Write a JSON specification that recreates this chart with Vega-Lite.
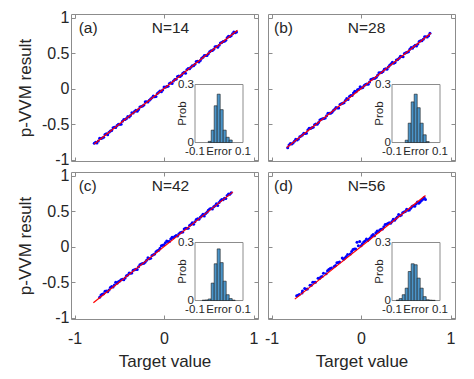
{
"$schema":"https://vega.github.io/schema/vega-lite/v6.json",
"padding":{"left":15,"top":9,"right":5,"bottom":5},
"columns":2,
"spacing":{"row":11,"column":10},
"bounds":"flush",
"config":{
 "view":{"stroke":"#8c8c8c","strokeWidth":1},
 "font":"Liberation Sans",
 "axis":{"domain":false,"grid":false,"tickColor":"#8c8c8c","tickSize":-4,"labelFont":"Liberation Sans","titleFont":"Liberation Sans","labelFontSize":16,"titleFontSize":17,"titleFontWeight":"normal","labelColor":"#262626","titleColor":"#262626","labelPadding":6,"titlePadding":5},
 "text":{"font":"Liberation Sans","color":"#262626"}
},
"datasets":{
 "pts":[
{"p":"a","x":-0.78,"y":-0.77},{"p":"a","x":-0.75,"y":-0.765},{"p":"a","x":-0.72,"y":-0.7},{"p":"a","x":-0.69,"y":-0.695},{"p":"a","x":-0.66,"y":-0.648},{"p":"a","x":-0.63,"y":-0.65},{"p":"a","x":-0.6,"y":-0.596},{"p":"a","x":-0.57,"y":-0.552},{"p":"a","x":-0.54,"y":-0.55},{"p":"a","x":-0.51,"y":-0.504},{"p":"a","x":-0.48,"y":-0.502},{"p":"a","x":-0.45,"y":-0.435},{"p":"a","x":-0.42,"y":-0.42},{"p":"a","x":-0.39,"y":-0.402},{"p":"a","x":-0.36,"y":-0.34},{"p":"a","x":-0.33,"y":-0.322},{"p":"a","x":-0.3,"y":-0.318},{"p":"a","x":-0.27,"y":-0.259},{"p":"a","x":-0.24,"y":-0.244},{"p":"a","x":-0.21,"y":-0.186},{"p":"a","x":-0.18,"y":-0.189},{"p":"a","x":-0.15,"y":-0.147},{"p":"a","x":-0.12,"y":-0.104},{"p":"a","x":-0.09,"y":-0.11},{"p":"a","x":-0.06,"y":-0.053},{"p":"a","x":-0.03,"y":-0.044},{"p":"a","x":0,"y":0.021},{"p":"a","x":0.03,"y":0.028},{"p":"a","x":0.06,"y":0.073},{"p":"a","x":0.09,"y":0.073},{"p":"a","x":0.12,"y":0.129},{"p":"a","x":0.15,"y":0.169},{"p":"a","x":0.18,"y":0.169},{"p":"a","x":0.21,"y":0.215},{"p":"a","x":0.24,"y":0.217},{"p":"a","x":0.27,"y":0.284},{"p":"a","x":0.3,"y":0.301},{"p":"a","x":0.33,"y":0.322},{"p":"a","x":0.36,"y":0.382},{"p":"a","x":0.39,"y":0.374},{"p":"a","x":0.42,"y":0.426},{"p":"a","x":0.45,"y":0.467},{"p":"a","x":0.48,"y":0.467},{"p":"a","x":0.51,"y":0.52},{"p":"a","x":0.54,"y":0.537},{"p":"a","x":0.57,"y":0.59},{"p":"a","x":0.6,"y":0.581},{"p":"a","x":0.63,"y":0.642},{"p":"a","x":0.66,"y":0.662},{"p":"a","x":0.69,"y":0.68},{"p":"a","x":0.72,"y":0.735},{"p":"a","x":0.75,"y":0.744},{"p":"a","x":0.78,"y":0.798},{"p":"a","x":0.81,"y":0.798},
{"p":"a","x":-0.765,"y":-0.756},{"p":"a","x":-0.735,"y":-0.74},{"p":"a","x":-0.705,"y":-0.702},{"p":"a","x":-0.675,"y":-0.686},{"p":"a","x":-0.645,"y":-0.638},{"p":"a","x":-0.615,"y":-0.615},{"p":"a","x":-0.585,"y":-0.591},{"p":"a","x":-0.555,"y":-0.545},{"p":"a","x":-0.525,"y":-0.521},{"p":"a","x":-0.495,"y":-0.504},{"p":"a","x":-0.465,"y":-0.46},{"p":"a","x":-0.435,"y":-0.437},{"p":"a","x":-0.405,"y":-0.393},{"p":"a","x":-0.375,"y":-0.38},{"p":"a","x":-0.345,"y":-0.344},{"p":"a","x":-0.315,"y":-0.307},{"p":"a","x":-0.285,"y":-0.295},{"p":"a","x":-0.255,"y":-0.252},{"p":"a","x":-0.225,"y":-0.232},{"p":"a","x":-0.195,"y":-0.185},{"p":"a","x":-0.165,"y":-0.166},{"p":"a","x":-0.135,"y":-0.129},{"p":"a","x":-0.105,"y":-0.114},{"p":"a","x":-0.075,"y":-0.071},{"p":"a","x":-0.045,"y":-0.036},{"p":"a","x":-0.015,"y":-0.021},{"p":"a","x":0.015,"y":0.018},{"p":"a","x":0.045,"y":0.034},{"p":"a","x":0.075,"y":0.082},{"p":"a","x":0.105,"y":0.106},{"p":"a","x":0.135,"y":0.131},{"p":"a","x":0.165,"y":0.176},{"p":"a","x":0.195,"y":0.187},{"p":"a","x":0.225,"y":0.228},{"p":"a","x":0.255,"y":0.264},{"p":"a","x":0.285,"y":0.279},{"p":"a","x":0.315,"y":0.32},{"p":"a","x":0.345,"y":0.344},{"p":"a","x":0.375,"y":0.385},{"p":"a","x":0.405,"y":0.396},{"p":"a","x":0.435,"y":0.441},{"p":"a","x":0.465,"y":0.466},{"p":"a","x":0.495,"y":0.49},{"p":"a","x":0.525,"y":0.533},{"p":"a","x":0.555,"y":0.552},{"p":"a","x":0.585,"y":0.594},{"p":"a","x":0.615,"y":0.609},{"p":"a","x":0.645,"y":0.65},{"p":"a","x":0.675,"y":0.668},{"p":"a","x":0.705,"y":0.715},{"p":"a","x":0.735,"y":0.733},{"p":"a","x":0.765,"y":0.771},{"p":"a","x":0.795,"y":0.785},
{"p":"b","x":-0.82,"y":-0.832},{"p":"b","x":-0.79,"y":-0.772},{"p":"b","x":-0.76,"y":-0.766},{"p":"b","x":-0.73,"y":-0.715},{"p":"b","x":-0.7,"y":-0.71},{"p":"b","x":-0.67,"y":-0.668},{"p":"b","x":-0.64,"y":-0.628},{"p":"b","x":-0.61,"y":-0.629},{"p":"b","x":-0.58,"y":-0.56},{"p":"b","x":-0.55,"y":-0.553},{"p":"b","x":-0.52,"y":-0.51},{"p":"b","x":-0.49,"y":-0.503},{"p":"b","x":-0.46,"y":-0.443},{"p":"b","x":-0.43,"y":-0.424},{"p":"b","x":-0.4,"y":-0.416},{"p":"b","x":-0.37,"y":-0.348},{"p":"b","x":-0.34,"y":-0.348},{"p":"b","x":-0.31,"y":-0.309},{"p":"b","x":-0.28,"y":-0.266},{"p":"b","x":-0.25,"y":-0.273},{"p":"b","x":-0.22,"y":-0.215},{"p":"b","x":-0.19,"y":-0.201},{"p":"b","x":-0.16,"y":-0.141},{"p":"b","x":-0.13,"y":-0.111},{"p":"b","x":-0.1,"y":-0.097},{"p":"b","x":-0.07,"y":-0.037},{"p":"b","x":-0.04,"y":-0.017},{"p":"b","x":-0.01,"y":0.026},{"p":"b","x":0.02,"y":0.016},{"p":"b","x":0.05,"y":0.057},{"p":"b","x":0.08,"y":0.06},{"p":"b","x":0.11,"y":0.126},{"p":"b","x":0.14,"y":0.143},{"p":"b","x":0.17,"y":0.161},{"p":"b","x":0.2,"y":0.224},{"p":"b","x":0.23,"y":0.226},{"p":"b","x":0.26,"y":0.271},{"p":"b","x":0.29,"y":0.272},{"p":"b","x":0.32,"y":0.328},{"p":"b","x":0.35,"y":0.37},{"p":"b","x":0.38,"y":0.368},{"p":"b","x":0.41,"y":0.41},{"p":"b","x":0.44,"y":0.455},{"p":"b","x":0.47,"y":0.448},{"p":"b","x":0.5,"y":0.506},{"p":"b","x":0.53,"y":0.52},{"p":"b","x":0.56,"y":0.578},{"p":"b","x":0.59,"y":0.594},{"p":"b","x":0.62,"y":0.6},{"p":"b","x":0.65,"y":0.662},{"p":"b","x":0.68,"y":0.675},{"p":"b","x":0.71,"y":0.73},{"p":"b","x":0.74,"y":0.725},{"p":"b","x":0.77,"y":0.78},
{"p":"b","x":-0.805,"y":-0.796},{"p":"b","x":-0.775,"y":-0.78},{"p":"b","x":-0.745,"y":-0.742},{"p":"b","x":-0.715,"y":-0.726},{"p":"b","x":-0.685,"y":-0.678},{"p":"b","x":-0.655,"y":-0.655},{"p":"b","x":-0.625,"y":-0.631},{"p":"b","x":-0.595,"y":-0.585},{"p":"b","x":-0.565,"y":-0.561},{"p":"b","x":-0.535,"y":-0.544},{"p":"b","x":-0.505,"y":-0.5},{"p":"b","x":-0.475,"y":-0.477},{"p":"b","x":-0.445,"y":-0.433},{"p":"b","x":-0.415,"y":-0.42},{"p":"b","x":-0.385,"y":-0.384},{"p":"b","x":-0.355,"y":-0.347},{"p":"b","x":-0.325,"y":-0.335},{"p":"b","x":-0.295,"y":-0.292},{"p":"b","x":-0.265,"y":-0.272},{"p":"b","x":-0.235,"y":-0.225},{"p":"b","x":-0.205,"y":-0.206},{"p":"b","x":-0.175,"y":-0.169},{"p":"b","x":-0.145,"y":-0.154},{"p":"b","x":-0.115,"y":-0.096},{"p":"b","x":-0.085,"y":-0.061},{"p":"b","x":-0.055,"y":-0.046},{"p":"b","x":-0.025,"y":-0.008},{"p":"b","x":0.005,"y":0.008},{"p":"b","x":0.035,"y":0.042},{"p":"b","x":0.065,"y":0.066},{"p":"b","x":0.095,"y":0.091},{"p":"b","x":0.125,"y":0.136},{"p":"b","x":0.155,"y":0.147},{"p":"b","x":0.185,"y":0.188},{"p":"b","x":0.215,"y":0.224},{"p":"b","x":0.245,"y":0.239},{"p":"b","x":0.275,"y":0.28},{"p":"b","x":0.305,"y":0.304},{"p":"b","x":0.335,"y":0.345},{"p":"b","x":0.365,"y":0.356},{"p":"b","x":0.395,"y":0.401},{"p":"b","x":0.425,"y":0.426},{"p":"b","x":0.455,"y":0.45},{"p":"b","x":0.485,"y":0.493},{"p":"b","x":0.515,"y":0.512},{"p":"b","x":0.545,"y":0.554},{"p":"b","x":0.575,"y":0.569},{"p":"b","x":0.605,"y":0.61},{"p":"b","x":0.635,"y":0.628},{"p":"b","x":0.665,"y":0.675},{"p":"b","x":0.695,"y":0.693},{"p":"b","x":0.725,"y":0.731},{"p":"b","x":0.755,"y":0.745},
{"p":"c","x":-0.72,"y":-0.714},{"p":"c","x":-0.69,"y":-0.672},{"p":"c","x":-0.66,"y":-0.629},{"p":"c","x":-0.63,"y":-0.635},{"p":"c","x":-0.6,"y":-0.578},{"p":"c","x":-0.57,"y":-0.569},{"p":"c","x":-0.54,"y":-0.504},{"p":"c","x":-0.51,"y":-0.497},{"p":"c","x":-0.48,"y":-0.467},{"p":"c","x":-0.45,"y":-0.467},{"p":"c","x":-0.42,"y":-0.411},{"p":"c","x":-0.39,"y":-0.371},{"p":"c","x":-0.36,"y":-0.371},{"p":"c","x":-0.33,"y":-0.325},{"p":"c","x":-0.3,"y":-0.323},{"p":"c","x":-0.27,"y":-0.256},{"p":"c","x":-0.24,"y":-0.239},{"p":"c","x":-0.21,"y":-0.218},{"p":"c","x":-0.18,"y":-0.158},{"p":"c","x":-0.15,"y":-0.166},{"p":"c","x":-0.12,"y":-0.114},{"p":"c","x":-0.09,"y":-0.073},{"p":"c","x":-0.06,"y":-0.053},{"p":"c","x":-0.03,"y":0.01},{"p":"c","x":0,"y":0.027},{"p":"c","x":0.03,"y":0.08},{"p":"c","x":0.06,"y":0.071},{"p":"c","x":0.09,"y":0.132},{"p":"c","x":0.12,"y":0.142},{"p":"c","x":0.15,"y":0.15},{"p":"c","x":0.18,"y":0.195},{"p":"c","x":0.21,"y":0.204},{"p":"c","x":0.24,"y":0.258},{"p":"c","x":0.27,"y":0.258},{"p":"c","x":0.3,"y":0.31},{"p":"c","x":0.33,"y":0.315},{"p":"c","x":0.36,"y":0.38},{"p":"c","x":0.39,"y":0.385},{"p":"c","x":0.42,"y":0.432},{"p":"c","x":0.45,"y":0.43},{"p":"c","x":0.48,"y":0.484},{"p":"c","x":0.51,"y":0.528},{"p":"c","x":0.54,"y":0.53},{"p":"c","x":0.57,"y":0.576},{"p":"c","x":0.6,"y":0.578},{"p":"c","x":0.63,"y":0.645},{"p":"c","x":0.66,"y":0.66},{"p":"c","x":0.69,"y":0.678},{"p":"c","x":0.72,"y":0.74},{"p":"c","x":0.75,"y":0.758},
{"p":"c","x":-0.705,"y":-0.681},{"p":"c","x":-0.675,"y":-0.665},{"p":"c","x":-0.645,"y":-0.627},{"p":"c","x":-0.615,"y":-0.611},{"p":"c","x":-0.585,"y":-0.563},{"p":"c","x":-0.555,"y":-0.54},{"p":"c","x":-0.525,"y":-0.516},{"p":"c","x":-0.495,"y":-0.485},{"p":"c","x":-0.465,"y":-0.461},{"p":"c","x":-0.435,"y":-0.444},{"p":"c","x":-0.405,"y":-0.4},{"p":"c","x":-0.375,"y":-0.377},{"p":"c","x":-0.345,"y":-0.333},{"p":"c","x":-0.315,"y":-0.32},{"p":"c","x":-0.285,"y":-0.284},{"p":"c","x":-0.255,"y":-0.247},{"p":"c","x":-0.225,"y":-0.235},{"p":"c","x":-0.195,"y":-0.192},{"p":"c","x":-0.165,"y":-0.172},{"p":"c","x":-0.135,"y":-0.125},{"p":"c","x":-0.105,"y":-0.106},{"p":"c","x":-0.075,"y":-0.059},{"p":"c","x":-0.045,"y":-0.024},{"p":"c","x":-0.015,"y":0.02},{"p":"c","x":0.015,"y":0.055},{"p":"c","x":0.045,"y":0.07},{"p":"c","x":0.075,"y":0.108},{"p":"c","x":0.105,"y":0.124},{"p":"c","x":0.135,"y":0.157},{"p":"c","x":0.165,"y":0.176},{"p":"c","x":0.195,"y":0.201},{"p":"c","x":0.225,"y":0.246},{"p":"c","x":0.255,"y":0.257},{"p":"c","x":0.285,"y":0.298},{"p":"c","x":0.315,"y":0.334},{"p":"c","x":0.345,"y":0.349},{"p":"c","x":0.375,"y":0.39},{"p":"c","x":0.405,"y":0.414},{"p":"c","x":0.435,"y":0.455},{"p":"c","x":0.465,"y":0.466},{"p":"c","x":0.495,"y":0.511},{"p":"c","x":0.525,"y":0.536},{"p":"c","x":0.555,"y":0.56},{"p":"c","x":0.585,"y":0.603},{"p":"c","x":0.615,"y":0.622},{"p":"c","x":0.645,"y":0.664},{"p":"c","x":0.675,"y":0.679},{"p":"c","x":0.705,"y":0.72},{"p":"c","x":0.735,"y":0.738},
{"p":"d","x":-0.72,"y":-0.694},{"p":"d","x":-0.69,"y":-0.676},{"p":"d","x":-0.66,"y":-0.653},{"p":"d","x":-0.63,"y":-0.591},{"p":"d","x":-0.6,"y":-0.598},{"p":"d","x":-0.57,"y":-0.545},{"p":"d","x":-0.54,"y":-0.503},{"p":"d","x":-0.51,"y":-0.501},{"p":"d","x":-0.48,"y":-0.447},{"p":"d","x":-0.45,"y":-0.429},{"p":"d","x":-0.42,"y":-0.376},{"p":"d","x":-0.39,"y":-0.384},{"p":"d","x":-0.36,"y":-0.322},{"p":"d","x":-0.33,"y":-0.301},{"p":"d","x":-0.3,"y":-0.282},{"p":"d","x":-0.27,"y":-0.227},{"p":"d","x":-0.24,"y":-0.217},{"p":"d","x":-0.21,"y":-0.162},{"p":"d","x":-0.18,"y":-0.162},{"p":"d","x":-0.15,"y":-0.11},{"p":"d","x":-0.12,"y":-0.105},{"p":"d","x":-0.09,"y":-0.04},{"p":"d","x":-0.06,"y":-0.035},{"p":"d","x":-0.03,"y":0.012},{"p":"d","x":0,"y":0.01},{"p":"d","x":0.03,"y":0.064},{"p":"d","x":0.06,"y":0.107},{"p":"d","x":0.09,"y":0.108},{"p":"d","x":0.12,"y":0.152},{"p":"d","x":0.15,"y":0.153},{"p":"d","x":0.18,"y":0.219},{"p":"d","x":0.21,"y":0.233},{"p":"d","x":0.24,"y":0.249},{"p":"d","x":0.27,"y":0.309},{"p":"d","x":0.3,"y":0.326},{"p":"d","x":0.33,"y":0.327},{"p":"d","x":0.36,"y":0.383},{"p":"d","x":0.39,"y":0.396},{"p":"d","x":0.42,"y":0.451},{"p":"d","x":0.45,"y":0.446},{"p":"d","x":0.48,"y":0.485},{"p":"d","x":0.51,"y":0.526},{"p":"d","x":0.54,"y":0.514},{"p":"d","x":0.57,"y":0.565},{"p":"d","x":0.6,"y":0.568},{"p":"d","x":0.63,"y":0.627},{"p":"d","x":0.66,"y":0.628},{"p":"d","x":0.69,"y":0.667},{"p":"d","x":0.72,"y":0.663},
{"p":"d","x":-0.655,"y":-0.625},{"p":"d","x":-0.555,"y":-0.545},{"p":"d","x":-0.465,"y":-0.45},{"p":"d","x":-0.375,"y":-0.34},{"p":"d","x":-0.285,"y":-0.265},{"p":"d","x":-0.195,"y":-0.18},{"p":"d","x":-0.105,"y":-0.07},{"p":"d","x":-0.045,"y":0.06},{"p":"d","x":-0.015,"y":0.07},{"p":"d","x":0.015,"y":0.04},{"p":"d","x":0.075,"y":0.085},{"p":"d","x":0.135,"y":0.17},{"p":"d","x":0.195,"y":0.21},{"p":"d","x":0.255,"y":0.28},{"p":"d","x":0.315,"y":0.335},{"p":"d","x":0.375,"y":0.37},{"p":"d","x":0.435,"y":0.435},{"p":"d","x":0.495,"y":0.495},{"p":"d","x":0.555,"y":0.54},{"p":"d","x":0.615,"y":0.6},{"p":"d","x":0.675,"y":0.65},{"p":"d","x":0.705,"y":0.69},
{"p":"d","x":-0.705,"y":-0.684},{"p":"d","x":-0.615,"y":-0.602},{"p":"d","x":-0.525,"y":-0.501},{"p":"d","x":-0.435,"y":-0.422},{"p":"d","x":-0.345,"y":-0.31},{"p":"d","x":-0.255,"y":-0.226},{"p":"d","x":-0.165,"y":-0.141},{"p":"d","x":-0.075,"y":-0.035},{"p":"d","x":0.045,"y":0.079},{"p":"d","x":0.105,"y":0.123},{"p":"d","x":0.165,"y":0.196},{"p":"d","x":0.225,"y":0.245},{"p":"d","x":0.285,"y":0.315},{"p":"d","x":0.345,"y":0.354},{"p":"d","x":0.405,"y":0.415},{"p":"d","x":0.465,"y":0.476},{"p":"d","x":0.525,"y":0.512},{"p":"d","x":0.585,"y":0.574},{"p":"d","x":0.645,"y":0.611}
 ],
 "lines":[
  {"p":"a","x":-0.78,"y":-0.78,"x2":0.82,"y2":0.82},
  {"p":"b","x":-0.83,"y":-0.83,"x2":0.78,"y2":0.78},
  {"p":"c","x":-0.79,"y":-0.79,"x2":0.77,"y2":0.77},
  {"p":"d","x":-0.74,"y":-0.74,"x2":0.72,"y2":0.72}
 ],
 "tags":[
  {"p":"a","x":-0.954,"y":0.853,"t":"(a)"},
  {"p":"b","x":-0.973,"y":0.853,"t":"(b)"},
  {"p":"c","x":-0.954,"y":0.853,"t":"(c)"},
  {"p":"d","x":-0.973,"y":0.853,"t":"(d)"}
 ],
 "ns":[
  {"p":"a","x":0.072,"y":0.853,"t":"N=14"},
  {"p":"b","x":0.061,"y":0.853,"t":"N=28"},
  {"p":"c","x":0.072,"y":0.853,"t":"N=42"},
  {"p":"d","x":0.061,"y":0.853,"t":"N=56"}
 ],
 "hist":[
  {"p":"a","x":-0.045,"x2":-0.0325,"y":0.006},{"p":"a","x":-0.0325,"x2":-0.02,"y":0.064},{"p":"a","x":-0.02,"x2":-0.0075,"y":0.19},{"p":"a","x":-0.0075,"x2":0.005,"y":0.25},{"p":"a","x":0.005,"x2":0.0175,"y":0.17},{"p":"a","x":0.0175,"x2":0.03,"y":0.064},{"p":"a","x":0.03,"x2":0.0425,"y":0.027},{"p":"a","x":0.0425,"x2":0.055,"y":0.013},
  {"p":"b","x":-0.045,"x2":-0.0325,"y":0.012},{"p":"b","x":-0.0325,"x2":-0.02,"y":0.1},{"p":"b","x":-0.02,"x2":-0.0075,"y":0.21},{"p":"b","x":-0.0075,"x2":0.005,"y":0.25},{"p":"b","x":0.005,"x2":0.0175,"y":0.18},{"p":"b","x":0.0175,"x2":0.03,"y":0.1},{"p":"b","x":0.03,"x2":0.0425,"y":0.04},{"p":"b","x":0.0425,"x2":0.055,"y":0.005},
  {"p":"c","x":-0.07,"x2":-0.0575,"y":0.002},{"p":"c","x":-0.0575,"x2":-0.045,"y":0.003},{"p":"c","x":-0.045,"x2":-0.0325,"y":0.008},{"p":"c","x":-0.0325,"x2":-0.02,"y":0.09},{"p":"c","x":-0.02,"x2":-0.0075,"y":0.19},{"p":"c","x":-0.0075,"x2":0.005,"y":0.267},{"p":"c","x":0.005,"x2":0.0175,"y":0.196},{"p":"c","x":0.0175,"x2":0.03,"y":0.1},{"p":"c","x":0.03,"x2":0.0425,"y":0.03},{"p":"c","x":0.0425,"x2":0.055,"y":0.01},{"p":"c","x":0.055,"x2":0.0675,"y":0.002},
  {"p":"d","x":-0.0825,"x2":-0.07,"y":0.002},{"p":"d","x":-0.07,"x2":-0.0575,"y":0.01},{"p":"d","x":-0.0575,"x2":-0.045,"y":0.03},{"p":"d","x":-0.045,"x2":-0.0325,"y":0.064},{"p":"d","x":-0.0325,"x2":-0.02,"y":0.15},{"p":"d","x":-0.02,"x2":-0.0075,"y":0.19},{"p":"d","x":-0.0075,"x2":0.005,"y":0.185},{"p":"d","x":0.005,"x2":0.0175,"y":0.116},{"p":"d","x":0.0175,"x2":0.03,"y":0.064},{"p":"d","x":0.03,"x2":0.0425,"y":0.02},{"p":"d","x":0.0425,"x2":0.055,"y":0.004},{"p":"d","x":0.055,"x2":0.0675,"y":0.002},{"p":"d","x":0.0675,"x2":0.08,"y":0.001}
 ],
 "frame":[{"x":-0.1,"x2":0.1,"y":0,"y2":0.3}],
 "ilx":[{"x":-0.1,"y":0,"t":"-0.1"},{"x":0,"y":0,"t":"Error"},{"x":0.1,"y":0,"t":"0.1"}],
 "ily":[{"x":-0.1,"y":0.3,"t":"0.3"},{"x":-0.1,"y":0,"t":"0"}],
 "ilp":[{"x":-0.15,"y":0.15,"t":"Prob"}]
},
"concat":[
{"width":187,"height":147,"resolve":{"scale":{"x":"independent","y":"independent"}},
 "layer":[
  {"encoding":{
    "x":{"field":"x","type":"quantitative","scale":{"domain":[-1.04,1.05],"nice":false,"zero":false},"axis":{"values":[-1,0,1],"labels":false,"title":null}},
    "y":{"field":"y","type":"quantitative","scale":{"domain":[-1.02,1.05],"nice":false,"zero":false},"axis":{"values":[-1,-0.5,0,0.5,1],"format":"~g","title":"p-VVM result","titlePadding":7,"labelExpr":"replace(datum.label, '\u2212', '-')"}}},
   "layer":[
    {"data":{"name":"pts"},"transform":[{"filter":"datum.p=='a'"}],"mark":{"type":"circle","size":9,"color":"#0000ff","opacity":1}},
    {"data":{"name":"lines"},"transform":[{"filter":"datum.p=='a'"}],"mark":{"type":"rule","color":"#ff0000","strokeWidth":1.2},"encoding":{"x2":{"field":"x2"},"y2":{"field":"y2"}}},
    {"data":{"name":"tags"},"transform":[{"filter":"datum.p=='a'"}],"mark":{"type":"text","align":"left","baseline":"middle","fontSize":15.5},"encoding":{"text":{"field":"t"}}},
    {"data":{"name":"ns"},"transform":[{"filter":"datum.p=='a'"}],"mark":{"type":"text","align":"center","baseline":"middle","fontSize":15.5},"encoding":{"text":{"field":"t"}}}
   ]},
  {"encoding":{
    "x":{"field":"x","type":"quantitative","scale":{"domain":[-1.04,1.05],"nice":false,"zero":false},"axis":{"orient":"top","values":[-1,0,1],"labels":false,"title":null}},
    "y":{"field":"y","type":"quantitative","scale":{"domain":[-1.02,1.05],"nice":false,"zero":false},"axis":{"orient":"right","values":[-1,-0.5,0,0.5,1],"labels":false,"title":null}}},
   "layer":[{"data":{"name":"lines"},"transform":[{"filter":"datum.p=='a'"}],"mark":{"type":"point","opacity":0}}]},
  {"encoding":{
    "x":{"field":"x","type":"quantitative","scale":{"domain":[-0.6167,0.1625],"nice":false,"zero":false},"axis":null},
    "y":{"field":"y","type":"quantitative","scale":{"domain":[-0.0956,0.6647],"nice":false,"zero":false},"axis":null}},
   "layer":[
    {"data":{"name":"frame"},"mark":{"type":"rect","fill":"white","stroke":"#8c8c8c","strokeWidth":1},"encoding":{"x2":{"field":"x2"},"y2":{"field":"y2"}}},
    {"data":{"name":"hist"},"transform":[{"filter":"datum.p=='a'"}],"mark":{"type":"rect","fill":"#4b95c9","stroke":"#1a1a1a","strokeWidth":0.6},"encoding":{"x2":{"field":"x2"},"y2":{"datum":0}}},
    {"data":{"name":"ilx"},"mark":{"type":"text","align":"center","baseline":"top","dy":3,"fontSize":11.5},"encoding":{"text":{"field":"t"}}},
    {"data":{"name":"ily"},"mark":{"type":"text","align":"right","baseline":"middle","dx":-1,"fontSize":11.5},"encoding":{"text":{"field":"t"}}},
    {"data":{"name":"ilp"},"mark":{"type":"text","align":"center","baseline":"middle","angle":270,"fontSize":11.5},"encoding":{"text":{"field":"t"}}}
   ]}
 ]},
{"width":187,"height":147,"resolve":{"scale":{"x":"independent","y":"independent"}},
 "layer":[
  {"encoding":{
    "x":{"field":"x","type":"quantitative","scale":{"domain":[-1.04,1.05],"nice":false,"zero":false},"axis":{"values":[-1,0,1],"labels":false,"title":null}},
    "y":{"field":"y","type":"quantitative","scale":{"domain":[-1.02,1.05],"nice":false,"zero":false},"axis":{"values":[-1,-0.5,0,0.5,1],"labels":false,"title":null}}},
   "layer":[
    {"data":{"name":"pts"},"transform":[{"filter":"datum.p=='b'"}],"mark":{"type":"circle","size":9,"color":"#0000ff","opacity":1}},
    {"data":{"name":"lines"},"transform":[{"filter":"datum.p=='b'"}],"mark":{"type":"rule","color":"#ff0000","strokeWidth":1.2},"encoding":{"x2":{"field":"x2"},"y2":{"field":"y2"}}},
    {"data":{"name":"tags"},"transform":[{"filter":"datum.p=='b'"}],"mark":{"type":"text","align":"left","baseline":"middle","fontSize":15.5},"encoding":{"text":{"field":"t"}}},
    {"data":{"name":"ns"},"transform":[{"filter":"datum.p=='b'"}],"mark":{"type":"text","align":"center","baseline":"middle","fontSize":15.5},"encoding":{"text":{"field":"t"}}}
   ]},
  {"encoding":{
    "x":{"field":"x","type":"quantitative","scale":{"domain":[-1.04,1.05],"nice":false,"zero":false},"axis":{"orient":"top","values":[-1,0,1],"labels":false,"title":null}},
    "y":{"field":"y","type":"quantitative","scale":{"domain":[-1.02,1.05],"nice":false,"zero":false},"axis":{"orient":"right","values":[-1,-0.5,0,0.5,1],"labels":false,"title":null}}},
   "layer":[{"data":{"name":"lines"},"transform":[{"filter":"datum.p=='b'"}],"mark":{"type":"point","opacity":0}}]},
  {"encoding":{
    "x":{"field":"x","type":"quantitative","scale":{"domain":[-0.6167,0.1625],"nice":false,"zero":false},"axis":null},
    "y":{"field":"y","type":"quantitative","scale":{"domain":[-0.0956,0.6647],"nice":false,"zero":false},"axis":null}},
   "layer":[
    {"data":{"name":"frame"},"mark":{"type":"rect","fill":"white","stroke":"#8c8c8c","strokeWidth":1},"encoding":{"x2":{"field":"x2"},"y2":{"field":"y2"}}},
    {"data":{"name":"hist"},"transform":[{"filter":"datum.p=='b'"}],"mark":{"type":"rect","fill":"#4b95c9","stroke":"#1a1a1a","strokeWidth":0.6},"encoding":{"x2":{"field":"x2"},"y2":{"datum":0}}},
    {"data":{"name":"ilx"},"mark":{"type":"text","align":"center","baseline":"top","dy":3,"fontSize":11.5},"encoding":{"text":{"field":"t"}}},
    {"data":{"name":"ily"},"mark":{"type":"text","align":"right","baseline":"middle","dx":-1,"fontSize":11.5},"encoding":{"text":{"field":"t"}}},
    {"data":{"name":"ilp"},"mark":{"type":"text","align":"center","baseline":"middle","angle":270,"fontSize":11.5},"encoding":{"text":{"field":"t"}}}
   ]}
 ]},
{"width":187,"height":147,"resolve":{"scale":{"x":"independent","y":"independent"}},
 "layer":[
  {"encoding":{
    "x":{"field":"x","type":"quantitative","scale":{"domain":[-1.04,1.05],"nice":false,"zero":false},"axis":{"values":[-1,0,1],"format":"~g","title":"Target value","labelPadding":15,"titlePadding":7,"labelExpr":"replace(datum.label, '\u2212', '-')"}},
    "y":{"field":"y","type":"quantitative","scale":{"domain":[-1.02,1.05],"nice":false,"zero":false},"axis":{"values":[-1,-0.5,0,0.5,1],"format":"~g","title":"p-VVM result","titlePadding":7,"labelExpr":"replace(datum.label, '\u2212', '-')"}}},
   "layer":[
    {"data":{"name":"pts"},"transform":[{"filter":"datum.p=='c'"}],"mark":{"type":"circle","size":9,"color":"#0000ff","opacity":1}},
    {"data":{"name":"lines"},"transform":[{"filter":"datum.p=='c'"}],"mark":{"type":"rule","color":"#ff0000","strokeWidth":1.2},"encoding":{"x2":{"field":"x2"},"y2":{"field":"y2"}}},
    {"data":{"name":"tags"},"transform":[{"filter":"datum.p=='c'"}],"mark":{"type":"text","align":"left","baseline":"middle","fontSize":15.5},"encoding":{"text":{"field":"t"}}},
    {"data":{"name":"ns"},"transform":[{"filter":"datum.p=='c'"}],"mark":{"type":"text","align":"center","baseline":"middle","fontSize":15.5},"encoding":{"text":{"field":"t"}}}
   ]},
  {"encoding":{
    "x":{"field":"x","type":"quantitative","scale":{"domain":[-1.04,1.05],"nice":false,"zero":false},"axis":{"orient":"top","values":[-1,0,1],"labels":false,"title":null}},
    "y":{"field":"y","type":"quantitative","scale":{"domain":[-1.02,1.05],"nice":false,"zero":false},"axis":{"orient":"right","values":[-1,-0.5,0,0.5,1],"labels":false,"title":null}}},
   "layer":[{"data":{"name":"lines"},"transform":[{"filter":"datum.p=='c'"}],"mark":{"type":"point","opacity":0}}]},
  {"encoding":{
    "x":{"field":"x","type":"quantitative","scale":{"domain":[-0.6167,0.1625],"nice":false,"zero":false},"axis":null},
    "y":{"field":"y","type":"quantitative","scale":{"domain":[-0.0956,0.6647],"nice":false,"zero":false},"axis":null}},
   "layer":[
    {"data":{"name":"frame"},"mark":{"type":"rect","fill":"white","stroke":"#8c8c8c","strokeWidth":1},"encoding":{"x2":{"field":"x2"},"y2":{"field":"y2"}}},
    {"data":{"name":"hist"},"transform":[{"filter":"datum.p=='c'"}],"mark":{"type":"rect","fill":"#4b95c9","stroke":"#1a1a1a","strokeWidth":0.6},"encoding":{"x2":{"field":"x2"},"y2":{"datum":0}}},
    {"data":{"name":"ilx"},"mark":{"type":"text","align":"center","baseline":"top","dy":3,"fontSize":11.5},"encoding":{"text":{"field":"t"}}},
    {"data":{"name":"ily"},"mark":{"type":"text","align":"right","baseline":"middle","dx":-1,"fontSize":11.5},"encoding":{"text":{"field":"t"}}},
    {"data":{"name":"ilp"},"mark":{"type":"text","align":"center","baseline":"middle","angle":270,"fontSize":11.5},"encoding":{"text":{"field":"t"}}}
   ]}
 ]},
{"width":187,"height":147,"resolve":{"scale":{"x":"independent","y":"independent"}},
 "layer":[
  {"encoding":{
    "x":{"field":"x","type":"quantitative","scale":{"domain":[-1.04,1.05],"nice":false,"zero":false},"axis":{"values":[-1,0,1],"format":"~g","title":"Target value","labelPadding":15,"titlePadding":7,"labelExpr":"replace(datum.label, '\u2212', '-')"}},
    "y":{"field":"y","type":"quantitative","scale":{"domain":[-1.02,1.05],"nice":false,"zero":false},"axis":{"values":[-1,-0.5,0,0.5,1],"labels":false,"title":null}}},
   "layer":[
    {"data":{"name":"pts"},"transform":[{"filter":"datum.p=='d'"}],"mark":{"type":"circle","size":9,"color":"#0000ff","opacity":1}},
    {"data":{"name":"lines"},"transform":[{"filter":"datum.p=='d'"}],"mark":{"type":"rule","color":"#ff0000","strokeWidth":1.2},"encoding":{"x2":{"field":"x2"},"y2":{"field":"y2"}}},
    {"data":{"name":"tags"},"transform":[{"filter":"datum.p=='d'"}],"mark":{"type":"text","align":"left","baseline":"middle","fontSize":15.5},"encoding":{"text":{"field":"t"}}},
    {"data":{"name":"ns"},"transform":[{"filter":"datum.p=='d'"}],"mark":{"type":"text","align":"center","baseline":"middle","fontSize":15.5},"encoding":{"text":{"field":"t"}}}
   ]},
  {"encoding":{
    "x":{"field":"x","type":"quantitative","scale":{"domain":[-1.04,1.05],"nice":false,"zero":false},"axis":{"orient":"top","values":[-1,0,1],"labels":false,"title":null}},
    "y":{"field":"y","type":"quantitative","scale":{"domain":[-1.02,1.05],"nice":false,"zero":false},"axis":{"orient":"right","values":[-1,-0.5,0,0.5,1],"labels":false,"title":null}}},
   "layer":[{"data":{"name":"lines"},"transform":[{"filter":"datum.p=='d'"}],"mark":{"type":"point","opacity":0}}]},
  {"encoding":{
    "x":{"field":"x","type":"quantitative","scale":{"domain":[-0.6167,0.1625],"nice":false,"zero":false},"axis":null},
    "y":{"field":"y","type":"quantitative","scale":{"domain":[-0.0956,0.6647],"nice":false,"zero":false},"axis":null}},
   "layer":[
    {"data":{"name":"frame"},"mark":{"type":"rect","fill":"white","stroke":"#8c8c8c","strokeWidth":1},"encoding":{"x2":{"field":"x2"},"y2":{"field":"y2"}}},
    {"data":{"name":"hist"},"transform":[{"filter":"datum.p=='d'"}],"mark":{"type":"rect","fill":"#4b95c9","stroke":"#1a1a1a","strokeWidth":0.6},"encoding":{"x2":{"field":"x2"},"y2":{"datum":0}}},
    {"data":{"name":"ilx"},"mark":{"type":"text","align":"center","baseline":"top","dy":3,"fontSize":11.5},"encoding":{"text":{"field":"t"}}},
    {"data":{"name":"ily"},"mark":{"type":"text","align":"right","baseline":"middle","dx":-1,"fontSize":11.5},"encoding":{"text":{"field":"t"}}},
    {"data":{"name":"ilp"},"mark":{"type":"text","align":"center","baseline":"middle","angle":270,"fontSize":11.5},"encoding":{"text":{"field":"t"}}}
   ]}
 ]}
]
}
